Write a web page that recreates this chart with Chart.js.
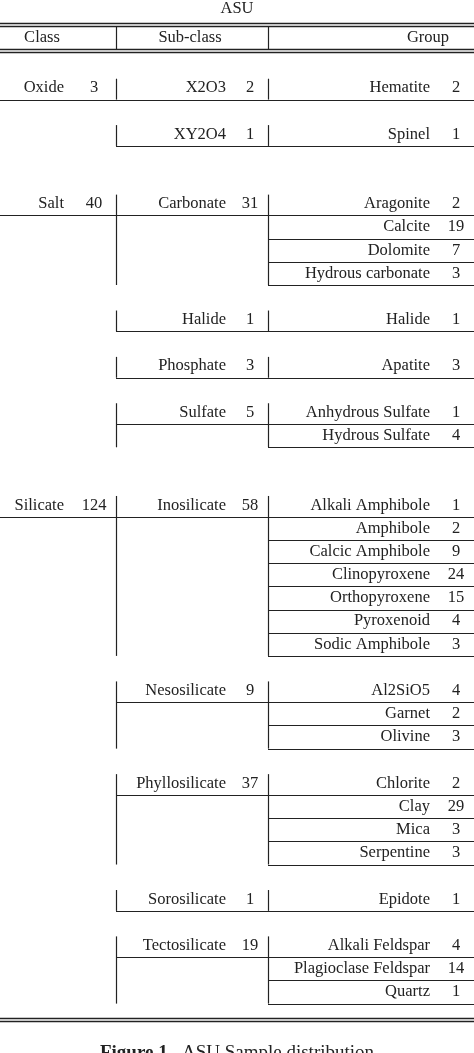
<!DOCTYPE html>
<html><head><meta charset="utf-8">
<script src="https://cdn.jsdelivr.net/npm/chart.js@4/dist/chart.umd.min.js"></script>
<style>html,body{margin:0;padding:0;background:#fff}#wrap{width:474px;height:1053px}</style>
</head><body><div id="wrap"><canvas id="c"></canvas></div>
<script>
// class level
const classNames = ['Oxide', 'Salt', 'Silicate'];
const classCounts = [3, 40, 124];
// sub-class level (classOf = index into classNames)
const subNames = ['X2O3', 'XY2O4', 'Carbonate', 'Halide', 'Phosphate', 'Sulfate',
  'Inosilicate', 'Nesosilicate', 'Phyllosilicate', 'Sorosilicate', 'Tectosilicate'];
const subCounts = [2, 1, 31, 1, 3, 5, 58, 9, 37, 1, 19];
const subClassOf = [0, 0, 1, 1, 1, 1, 2, 2, 2, 2, 2];
// group level (subOf = index into subNames)
const groupNames = ['Hematite', 'Spinel', 'Aragonite', 'Calcite', 'Dolomite', 'Hydrous carbonate',
  'Halide', 'Apatite', 'Anhydrous Sulfate', 'Hydrous Sulfate',
  'Alkali Amphibole', 'Amphibole', 'Calcic Amphibole', 'Clinopyroxene', 'Orthopyroxene', 'Pyroxenoid', 'Sodic Amphibole',
  'Al2SiO5', 'Garnet', 'Olivine', 'Chlorite', 'Clay', 'Mica', 'Serpentine', 'Epidote',
  'Alkali Feldspar', 'Plagioclase Feldspar', 'Quartz'];
const groupCounts = [2, 1, 2, 19, 7, 3, 1, 3, 1, 4, 1, 2, 9, 24, 15, 4, 3, 4, 2, 3, 2, 29, 3, 3, 1, 4, 14, 1];
const groupSubOf = [0, 1, 2, 2, 2, 2, 3, 4, 5, 5, 6, 6, 6, 6, 6, 6, 6, 7, 7, 7, 8, 8, 8, 8, 9, 10, 10, 10];
const headers = ['Class', 'Sub-class', 'Group'];
const title = 'ASU';

// row positions from the hierarchy
const groupRow = [];
let row = 0;
groupNames.forEach((g, i) => {
  if (i > 0) {
    const s = groupSubOf[i], ps = groupSubOf[i - 1];
    if (subClassOf[s] !== subClassOf[ps]) row += 3;
    else if (s !== ps) row += 2;
    else row += 1;
  }
  groupRow.push(row);
});
const firstRowOfSub = subNames.map((_, s) => groupRow[groupSubOf.indexOf(s)]);
const lastRowOfSub = subNames.map((_, s) => groupRow[groupSubOf.lastIndexOf(s)]);
const firstRowOfClass = classNames.map((_, c) => firstRowOfSub[subClassOf.indexOf(c)]);

const FONT = '16.5px "Liberation Serif", "DejaVu Serif", serif';
const CAP_FONT = '19px "Liberation Serif", "DejaVu Serif", serif';
const INK = '#222';

const tablePlugin = {
  id: 'table',
  afterDraw(chart) {
    const { ctx, scales: { x, y } } = chart;
    const X = v => x.getPixelForValue(v), Y = v => y.getPixelForValue(v);
    const hline = (r, x0, x1, w) => {
      ctx.lineWidth = w || 1;
      ctx.beginPath(); ctx.moveTo(X(x0), Math.round(Y(r)) + 0.5); ctx.lineTo(X(x1), Math.round(Y(r)) + 0.5); ctx.stroke();
    };
    const vline = (xv, r0, r1) => {
      ctx.lineWidth = 1.2;
      ctx.beginPath(); ctx.moveTo(Math.round(X(xv)) + 0.5, Y(r0)); ctx.lineTo(Math.round(X(xv)) + 0.5, Y(r1)); ctx.stroke();
    };
    const text = (t, xv, r, align, font) => {
      ctx.font = font || FONT; ctx.textAlign = align; ctx.textBaseline = 'middle';
      ctx.fillText(t, X(xv), Y(r));
    };
    ctx.save();
    ctx.strokeStyle = INK; ctx.fillStyle = INK;

    text(title, 237, -3.42, 'center');
    hline(-2.79, 0, 474, 1.4); hline(-2.66, 0, 474, 1.4);
    text(headers[0], 42, -2.15, 'center');
    text(headers[1], 190, -2.15, 'center');
    text(headers[2], 428, -2.15, 'center');
    vline(116, -2.66, -1.67); vline(268, -2.66, -1.67);
    hline(-1.67, 0, 474, 1.4); hline(-1.54, 0, 474, 1.4);

    classNames.forEach((c, i) => {
      const r = firstRowOfClass[i];
      text(c, 64, r, 'right');
      text(String(classCounts[i]), 94, r, 'center');
      hline(r + 0.5, 0, 474);
    });
    subNames.forEach((s, i) => {
      const r = firstRowOfSub[i];
      text(s, 226, r, 'right');
      text(String(subCounts[i]), 250, r, 'center');
      hline(r + 0.5, 116, 474);
      vline(116, r - 0.4, lastRowOfSub[i] + 0.5);
      vline(268, r - 0.4, lastRowOfSub[i] + 0.5);
    });
    groupNames.forEach((g, i) => {
      const r = groupRow[i];
      text(g, 430, r, 'right');
      text(String(groupCounts[i]), 456, r, 'center');
      hline(r + 0.5, 268, 474);
    });

    hline(40.1, 0, 474, 1.4); hline(40.23, 0, 474, 1.4);
    ctx.textAlign = 'left'; ctx.textBaseline = 'middle';
    const bold = 'Figure 1.';
    ctx.font = 'bold ' + CAP_FONT;
    const bw = ctx.measureText(bold).width;
    const rest = '  ASU Sample distribution';
    ctx.font = CAP_FONT;
    const rw = ctx.measureText(rest).width;
    const x0 = 237 - (bw + rw) / 2;
    ctx.font = 'bold ' + CAP_FONT; ctx.fillText(bold, X(x0), Y(41.62));
    ctx.font = CAP_FONT; ctx.fillText(rest, X(x0) + bw, Y(41.62));
    ctx.restore();
  }
};

new Chart(document.getElementById('c'), {
  type: 'scatter',
  data: { datasets: [{ data: groupRow.map(r => ({ x: 456, y: r })), pointRadius: 0 }] },
  options: {
    responsive: true, maintainAspectRatio: false, animation: false,
    layout: { padding: 0 },
    plugins: { legend: { display: false }, tooltip: { enabled: false } },
    scales: {
      x: { type: 'linear', min: 0, max: 474, display: false },
      y: { type: 'linear', reverse: true, min: -88 / 23.18, max: (1053 - 88) / 23.18, display: false }
    }
  },
  plugins: [tablePlugin]
});
</script></body></html>
